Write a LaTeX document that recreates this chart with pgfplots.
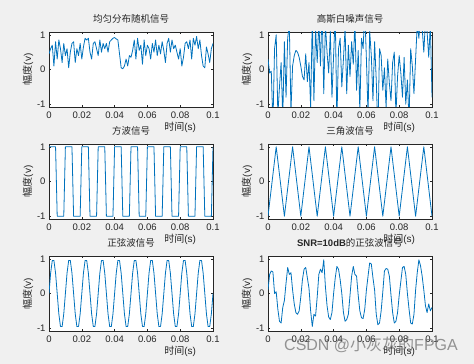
\documentclass[border=0pt]{standalone}
\usepackage{fontspec}
\setmainfont{Liberation Sans}
\newfontfamily\cjk{Noto Sans CJK SC}
\usepackage{pgfplots}
\usepackage{pgfplotstable}
\pgfplotsset{compat=1.18}
\definecolor{figbg}{RGB}{240,240,240}
\definecolor{mblue}{rgb}{0,0.447,0.741}
\definecolor{axc}{rgb}{0.15,0.15,0.15}
\newcommand{\zh}[1]{{\cjk #1}}

\pgfplotstableread{
t uni gau sq tri sin snr
0.000 0.45 0.3 1 -1 0 0.1
0.001 0.6 -0.1 1 -0.6 0.5878 0.55
0.002 0.7 -0.05 1 -0.2 0.9511 0.65
0.003 0.1 -1.6 1 0.2 0.9511 0.62
0.004 0.8 0.6 1 0.6 0.5878 0.0
0.005 0.3 1.0 -1 1 0 0.05
0.006 0.85 -1.3 -1 0.6 -0.5878 -0.45
0.007 0.6 -0.5 -1 0.2 -0.9511 -0.8
0.008 0.2 0.2 -1 -0.2 -0.9511 -0.85
0.009 0.75 -1.4 -1 -0.6 -0.5878 -0.4
0.010 0.4 0.8 1 -1 0 -0.2
0.011 0.6 -0.8 1 -0.6 0.5878 0.3
0.012 0.05 0.9 1 -0.2 0.9511 0.75
0.013 0.5 1.3 1 0.2 0.9511 0.55
0.014 0.75 -1.2 1 0.6 0.5878 0.6
0.015 0.8 0.1 -1 1 0 0.1
0.016 0.2 0.4 -1 0.6 -0.5878 -0.3
0.017 0.6 0.55 -1 0.2 -0.9511 -0.55
0.018 0.4 0.5 -1 -0.2 -0.9511 -0.6
0.019 0.75 0.35 -1 -0.6 -0.5878 -0.5
0.020 0.3 0.1 1 -1 0 -0.1
0.021 0.65 -0.2 1 -0.6 0.5878 0.4
0.022 0.9 -0.3 1 -0.2 0.9511 0.7
0.023 0.85 0.45 1 0.2 0.9511 0.75
0.024 0.9 -0.35 1 0.6 0.5878 0.45
0.025 0.5 0.2 -1 1 0 0.15
0.026 0.3 -1.1 -1 0.6 -0.5878 -0.5
0.027 0.75 1.5 -1 0.2 -0.9511 -0.95
0.028 0.8 -0.9 -1 -0.2 -0.9511 -0.6
0.029 0.6 1.2 -1 -0.6 -0.5878 -0.65
0.030 0.4 0.2 1 -1 0 -0.1
0.031 0.85 1.4 1 -0.6 0.5878 0.55
0.032 0.5 0.1 1 -0.2 0.9511 0.7
0.033 0.75 1.8 1 0.2 0.9511 0.6
0.034 0.6 -0.7 1 0.6 0.5878 0.97
0.035 0.75 1.3 -1 1 0 0.2
0.036 0.5 0.5 -1 0.6 -0.5878 -0.35
0.037 0.8 -0.1 -1 0.2 -0.9511 -0.68
0.038 0.85 1.1 -1 -0.2 -0.9511 -0.75
0.039 0.9 -0.8 -1 -0.6 -0.5878 -0.55
0.040 0.92 0.4 1 -1 0 0.0
0.041 0.88 1.6 1 -0.6 0.5878 0.45
0.042 0.85 -1.5 1 -0.2 0.9511 0.78
0.043 0.45 0.6 1 0.2 0.9511 0.7
0.044 0.05 0.9 1 0.6 0.5878 0.4
0.045 0.02 -0.5 -1 1 0 0.0
0.046 0.1 0.3 -1 0.6 -0.5878 -0.55
0.047 0.3 1.2 -1 0.2 -0.9511 -0.8
0.048 0.1 -0.7 -1 -0.2 -0.9511 -0.75
0.049 0.4 0.7 -1 -0.6 -0.5878 -0.6
0.050 0.35 -0.2 1 -1 0 -0.05
0.051 0.55 0.8 1 -0.6 0.5878 0.5
0.052 0.85 0.15 1 -0.2 0.9511 0.78
0.053 0.3 1.4 1 0.2 0.9511 0.55
0.054 0.9 -0.6 1 0.6 0.5878 0.5
0.055 0.55 0.55 -1 1 0 -0.05
0.056 0.7 -1.2 -1 0.6 -0.5878 -0.5
0.057 0.15 0.9 -1 0.2 -0.9511 -0.7
0.058 0.85 0.6 -1 -0.2 -0.9511 -0.72
0.059 0.4 1.7 -1 -0.6 -0.5878 -0.45
0.060 0.7 0.3 1 -1 0 0.1
0.061 0.6 -1.3 1 -0.6 0.5878 0.5
0.062 0.3 1.1 1 -0.2 0.9511 0.88
0.063 0.75 0.4 1 0.2 0.9511 0.85
0.064 0.5 -0.9 1 0.6 0.5878 0.45
0.065 0.85 0.8 -1 1 0 0.1
0.066 0.4 -0.3 -1 0.6 -0.5878 -0.6
0.067 0.7 -1.8 -1 0.2 -0.9511 -0.9
0.068 0.45 0.6 -1 -0.2 -0.9511 -0.85
0.069 0.8 0.4 -1 -0.6 -0.5878 -0.5
0.070 0.55 -0.6 1 -1 0 0.05
0.071 0.2 0.05 1 -0.6 0.5878 0.65
0.072 0.75 -1.1 1 -0.2 0.9511 0.72
0.073 0.9 0.3 1 0.2 0.9511 0.7
0.074 0.5 -0.4 1 0.6 0.5878 0.5
0.075 0.85 -0.9 -1 1 0 -0.05
0.076 0.6 0.2 -1 0.6 -0.5878 -0.55
0.077 0.7 0.5 -1 0.2 -0.9511 -0.85
0.078 0.5 -1.3 -1 -0.2 -0.9511 -0.8
0.079 0.3 -0.2 -1 -0.6 -0.5878 -0.55
0.080 0.6 0.4 1 -1 0 -0.05
0.081 0.1 -0.1 1 -0.6 0.5878 0.35
0.082 0.35 -0.8 1 -0.2 0.9511 0.75
0.083 0.75 0.35 1 0.2 0.9511 0.78
0.084 0.8 -1.0 1 0.6 0.5878 0.55
0.085 0.6 -0.3 -1 1 0 0.0
0.086 0.85 -1.5 -1 0.6 -0.5878 -0.45
0.087 0.3 0.6 -1 0.2 -0.9511 -0.85
0.088 0.9 0.1 -1 -0.2 -0.9511 -0.88
0.089 0.7 -0.7 -1 -0.6 -0.5878 -0.6
0.090 0.95 0.3 1 -1 0 0.1
0.091 0.6 1.3 1 -0.6 0.5878 0.6
0.092 0.85 0.9 1 -0.2 0.9511 0.97
0.093 0.4 1.6 1 0.2 0.9511 0.8
0.094 0.1 1.2 1 0.6 0.5878 0.5
0.095 0.05 0.5 -1 1 0 0.1
0.096 0.65 1.4 -1 0.6 -0.5878 -0.35
0.097 0.45 1.1 -1 0.2 -0.9511 -0.55
0.098 0.2 0.35 -1 -0.2 -0.9511 -0.3
0.099 0.6 1.3 -1 -0.6 -0.5878 -0.5
0.100 0.75 -0.8 1 -1 0 -0.4
}\data

\pgfplotsset{
  sub/.style={
    scale only axis, width=164pt, height=75pt, anchor=south west,
    xmin=0, xmax=0.1, ymin=-1.08, ymax=1.08,
    xtick={0,0.02,0.04,0.06,0.08,0.1},
    xticklabels={0,0.02,0.04,0.06,0.08,0.1},
    ytick={-1,0,1}, yticklabels={-1,0,1},
    tick align=inside, major tick length=2pt,
    axis line style={axc, line width=0.5pt},
    every tick/.style={axc, line width=0.5pt},
    axis background/.style={fill=white},
    tick label style={font=\fontsize{9.5}{11}\selectfont, text=axc},
    xticklabel style={yshift=-1.5pt},
    /pgf/number format/assume math mode=true,
    xlabel={\zh{时间}(s)}, ylabel={\zh{幅度}(v)},
    label style={font=\fontsize{10}{12}\selectfont, text=axc},
    xlabel style={at={(axis description cs:0.8,-0.27)}, anchor=center},
    ylabel style={at={(axis description cs:-0.128,0.5)}, anchor=center},
    title style={font=\fontsize{9.5}{11}\selectfont, text=axc, at={(axis description cs:0.5,1)}, anchor=south, yshift=-0.5pt},
  },
  sig/.style={mblue, line width=0.8pt, line join=round}
}

\begin{document}
\begin{tikzpicture}[x=1pt,y=1pt]
\path[use as bounding box, fill=figbg] (0,0) rectangle (474,364);

\begin{axis}[sub, at={(49pt,257pt)}, title={\zh{均匀分布随机信号}}]
\addplot[sig] table[x=t, y=uni] {\data};
\end{axis}

\begin{axis}[sub, at={(268pt,257pt)}, title={\zh{高斯白噪声信号}}]
\addplot[sig] table[x=t, y=gau] {\data};
\end{axis}

\begin{axis}[sub, at={(49pt,145pt)}, title={\zh{方波信号}}]
\addplot[sig] table[x=t, y=sq] {\data};
\end{axis}

\begin{axis}[sub, at={(268pt,145pt)}, title={\zh{三角波信号}}]
\addplot[sig] table[x=t, y=tri] {\data};
\end{axis}

\begin{axis}[sub, at={(49pt,33pt)}, title={\zh{正弦波信号}}]
\addplot[sig] table[x=t, y=sin] {\data};
\end{axis}

\begin{axis}[sub, at={(268pt,33pt)}, title={\textbf{SNR=10dB}\zh{的正弦波信号}}]
\addplot[sig] table[x=t, y=snr] {\data};
\end{axis}

\node[font=\fontsize{16}{18}\selectfont, text=black!55, opacity=0.75, anchor=center] at (371,19) {CSDN @\zh{小灰灰的}FPGA};
\end{tikzpicture}
\end{document}
